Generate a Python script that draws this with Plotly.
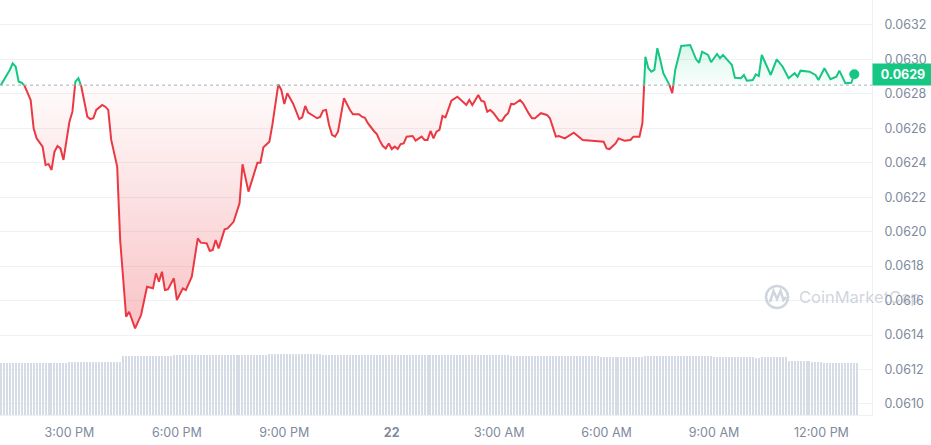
import plotly.graph_objects as go
from datetime import datetime, timedelta

# ---------------- data ----------------
START = datetime(2024, 6, 21, 13, 5)
BASE_PRICE = 0.06285  # opening price (dotted reference line)

MINUTES = [
    0, 10, 15, 20, 25, 30, 35, 40, 50, 55, 60, 70, 75, 80, 85, 90, 95, 100, 105, 115,
    120, 125, 130, 135, 145, 150, 155, 160, 170, 175, 180, 185, 195, 200, 210, 215, 225, 235, 245, 255,
    260, 265, 270, 275, 280, 290, 295, 305, 310, 320, 330, 335, 345, 350, 355, 360, 365, 375, 380, 390,
    400, 405, 415, 430, 435, 440, 450, 455, 465, 470, 475, 480, 490, 500, 505, 510, 515, 530, 535, 540,
    545, 550, 555, 560, 565, 575, 585, 590, 600, 605, 610, 615, 625, 630, 635, 640, 645, 650, 655, 660,
    665, 670, 675, 680, 690, 695, 705, 710, 715, 720, 725, 730, 735, 740, 745, 755, 765, 775, 780, 785,
    790, 800, 805, 810, 815, 820, 825, 835, 840, 845, 850, 855, 860, 870, 875, 885, 890, 895, 905, 915,
    920, 930, 935, 945, 955, 960, 975, 985, 995, 1000, 1010, 1015, 1020, 1030, 1035, 1045, 1055, 1060, 1070, 1075,
    1080, 1085, 1090, 1095, 1100, 1105, 1110, 1120, 1125, 1130, 1140, 1150, 1155, 1165, 1170, 1175, 1185, 1190, 1200, 1205,
    1210, 1220, 1225, 1230, 1240, 1245, 1250, 1260, 1265, 1270, 1275, 1285, 1290, 1300, 1310, 1320, 1330, 1335, 1340, 1355,
    1365, 1370, 1380, 1390, 1400, 1405, 1415, 1425, 1430,
]

PRICES = [
    0.062850, 0.062909, 0.062938, 0.062977, 0.062957, 0.062870, 0.062864, 0.062845, 0.062764, 0.062600,
    0.062541, 0.062493, 0.062387, 0.062392, 0.062358, 0.062464, 0.062497, 0.062483, 0.062416, 0.062638,
    0.062696, 0.062870, 0.062890, 0.062841, 0.062667, 0.062653, 0.062658, 0.062706, 0.062735, 0.062725,
    0.062706, 0.062532, 0.062377, 0.061951, 0.061506, 0.061535, 0.061439, 0.061516, 0.061680, 0.061671,
    0.061758, 0.061709, 0.061767, 0.061661, 0.061665, 0.061729, 0.061603, 0.061671, 0.061661, 0.061738,
    0.061961, 0.061936, 0.061932, 0.061889, 0.061893, 0.061951, 0.061903, 0.062013, 0.062019, 0.062057,
    0.062164, 0.062391, 0.062232, 0.062400, 0.062400, 0.062489, 0.062522, 0.062619, 0.062855, 0.062822,
    0.062741, 0.062803, 0.062741, 0.062653, 0.062663, 0.062729, 0.062691, 0.062658, 0.062665, 0.062702,
    0.062706, 0.062619, 0.062561, 0.062551, 0.062580, 0.062774, 0.062706, 0.062681, 0.062681, 0.062667,
    0.062661, 0.062629, 0.062584, 0.062566, 0.062528, 0.062497, 0.062483, 0.062512, 0.062479, 0.062493,
    0.062479, 0.062508, 0.062512, 0.062551, 0.062555, 0.062528, 0.062551, 0.062532, 0.062532, 0.062584,
    0.062541, 0.062580, 0.062590, 0.062671, 0.062663, 0.062760, 0.062783, 0.062754, 0.062735, 0.062764,
    0.062735, 0.062793, 0.062760, 0.062754, 0.062696, 0.062706, 0.062690, 0.062644, 0.062644, 0.062671,
    0.062687, 0.062741, 0.062739, 0.062764, 0.062745, 0.062683, 0.062658, 0.062658, 0.062687, 0.062677,
    0.062658, 0.062551, 0.062555, 0.062541, 0.062561, 0.062574, 0.062532, 0.062528, 0.062528, 0.062522,
    0.062522, 0.062483, 0.062479, 0.062512, 0.062541, 0.062528, 0.062532, 0.062551, 0.062551, 0.062629,
    0.063015, 0.062948, 0.062928, 0.062938, 0.063064, 0.062996, 0.062919, 0.062853, 0.062803, 0.062938,
    0.063077, 0.063083, 0.063083, 0.063000, 0.062980, 0.063044, 0.063025, 0.062983, 0.063031, 0.063006,
    0.063025, 0.062986, 0.062967, 0.062893, 0.062890, 0.062909, 0.062876, 0.062880, 0.062913, 0.062903,
    0.063025, 0.062948, 0.062909, 0.063000, 0.062957, 0.062890, 0.062919, 0.062899, 0.062934, 0.062928,
    0.062909, 0.062880, 0.062948, 0.062884, 0.062899, 0.062934, 0.062861, 0.062864, 0.062913,
]

# rolling volume (millions), one bar per 5 minutes, one row per hour
VOLUME = [
    63.0, 63.0, 63.0, 63.0, 63.0, 63.0, 63.0, 63.0, 63.0, 63.0, 63.0, 63.0,
    63.0, 63.0, 63.0, 63.0, 63.0, 63.0, 63.0, 63.0, 63.0, 63.0, 63.0, 64.2,
    64.2, 64.2, 64.2, 64.2, 64.2, 64.2, 64.2, 64.2, 64.2, 64.2, 64.2, 64.2,
    64.2, 64.2, 64.2, 64.2, 64.2, 71.1, 71.1, 71.1, 71.1, 71.1, 71.1, 71.1,
    71.1, 71.1, 71.1, 71.1, 71.1, 71.1, 71.1, 71.1, 71.1, 71.1, 72.3, 72.3,
    72.3, 72.3, 72.3, 72.3, 72.3, 72.3, 72.3, 72.3, 72.3, 72.3, 72.3, 72.3,
    72.3, 72.3, 72.3, 72.3, 72.3, 72.3, 72.3, 72.3, 72.3, 72.3, 72.3, 72.3,
    72.3, 72.3, 72.3, 72.3, 72.3, 72.3, 73.5, 73.5, 73.5, 73.5, 73.5, 73.5,
    73.5, 73.5, 73.5, 73.5, 73.5, 73.5, 73.5, 73.5, 73.5, 73.5, 73.5, 73.5,
    72.6, 72.6, 72.6, 72.6, 72.6, 72.6, 72.6, 72.6, 72.6, 72.6, 72.6, 72.6,
    72.4, 72.4, 72.4, 72.4, 72.4, 72.4, 72.4, 72.4, 72.4, 72.4, 72.4, 72.4,
    72.3, 72.3, 72.3, 72.3, 72.3, 72.3, 72.3, 72.3, 72.3, 72.3, 72.3, 72.3,
    72.2, 72.2, 72.2, 72.2, 72.2, 72.2, 72.2, 72.2, 72.2, 72.2, 72.2, 72.2,
    72.1, 72.1, 72.1, 72.1, 72.1, 72.1, 72.1, 72.1, 72.1, 72.1, 72.1, 72.1,
    72.0, 72.0, 72.0, 71.5, 71.5, 71.5, 71.5, 71.5, 71.5, 71.5, 71.5, 71.5,
    71.5, 71.5, 71.5, 71.5, 71.5, 71.5, 71.5, 71.5, 71.5, 71.5, 71.5, 71.5,
    71.4, 71.4, 71.4, 71.4, 71.4, 71.4, 71.4, 71.4, 71.4, 70.3, 70.3, 70.3,
    70.3, 70.3, 70.3, 70.3, 70.3, 70.3, 70.3, 70.3, 70.3, 70.3, 70.3, 70.3,
    71.5, 71.5, 71.5, 71.5, 71.5, 71.5, 71.5, 71.5, 71.5, 71.5, 71.5, 71.5,
    71.5, 71.5, 71.5, 71.5, 71.5, 71.5, 71.5, 71.5, 71.5, 71.5, 71.5, 70.3,
    70.3, 70.3, 70.3, 70.3, 70.3, 70.3, 70.3, 70.3, 70.3, 70.3, 70.3, 70.3,
    70.3, 69.0, 69.0, 69.9, 69.9, 69.9, 69.9, 69.9, 69.9, 69.9, 69.9, 69.9,
    65.1, 65.1, 65.1, 65.1, 65.1, 65.1, 65.1, 65.1, 63.5, 63.5, 63.5, 63.5,
    62.3, 62.3, 62.3, 62.3, 62.3, 62.3, 62.3, 62.3, 62.3, 62.3, 62.3, 62.3,
]

Y_TICKS = [0.0610, 0.0612, 0.0614, 0.0616, 0.0618, 0.0620, 0.0622,
           0.0624, 0.0626, 0.0628, 0.0630, 0.0632]
X_TICK_TIMES = ["2024-06-21 15:00", "2024-06-21 18:00", "2024-06-21 21:00",
                "2024-06-22 00:00", "2024-06-22 03:00", "2024-06-22 06:00",
                "2024-06-22 09:00", "2024-06-22 12:00"]
X_TICK_LABELS = ["3:00 PM", "6:00 PM", "9:00 PM", "<b>22</b>", "3:00 AM",
                 "6:00 AM", "9:00 AM", "12:00 PM"]
X_RANGE = ["2024-06-21 13:03:40", "2024-06-22 13:24:40"]
Y_RANGE = [0.060936, 0.063344]

RED = "#EA3943"
GREEN = "#16C784"
GRAY_TXT = "#808A9D"
FONT = "Inter, 'Noto Sans', sans-serif"

# ---------------- build series ----------------
times = [START + timedelta(minutes=m) for m in MINUTES]
vol_times = [START + timedelta(minutes=5 * i) for i in range(len(VOLUME))]

# split line at the opening price so it can be coloured above/below
seg_t, seg_p = [times[0]], [PRICES[0]]
for i in range(1, len(PRICES)):
    p0, p1 = PRICES[i - 1], PRICES[i]
    if (p0 - BASE_PRICE) * (p1 - BASE_PRICE) < 0:
        f = (BASE_PRICE - p0) / (p1 - p0)
        seg_t.append(times[i - 1] + (times[i] - times[i - 1]) * f)
        seg_p.append(BASE_PRICE)
    seg_t.append(times[i])
    seg_p.append(p1)

red_line = [p if p <= BASE_PRICE else None for p in seg_p]
green_line = [p if p >= BASE_PRICE else None for p in seg_p]
below = [min(p, BASE_PRICE) for p in seg_p]
above = [max(p, BASE_PRICE) for p in seg_p]
base = [BASE_PRICE] * len(seg_p)

fig = go.Figure()

# volume bars
fig.add_trace(go.Bar(
    x=vol_times, y=VOLUME, yaxis="y2", marker=dict(color="#D6DCE5", line=dict(width=0)),
    width=110000, hoverinfo="skip", showlegend=False))

# red area (below open)
fig.add_trace(go.Scatter(x=seg_t, y=base, mode="lines", line=dict(width=0),
                         hoverinfo="skip", showlegend=False))
fig.add_trace(go.Scatter(
    x=seg_t, y=below, mode="lines", line=dict(width=0), fill="tonexty",
    fillgradient=dict(type="vertical",
                      colorscale=[[0, "rgba(234,57,67,0.30)"], [1, "rgba(234,57,67,0.02)"]],
                      start=min(PRICES), stop=BASE_PRICE),
    hoverinfo="skip", showlegend=False))

# green area (above open)
fig.add_trace(go.Scatter(x=seg_t, y=base, mode="lines", line=dict(width=0),
                         hoverinfo="skip", showlegend=False))
fig.add_trace(go.Scatter(
    x=seg_t, y=above, mode="lines", line=dict(width=0), fill="tonexty",
    fillgradient=dict(type="vertical",
                      colorscale=[[0, "rgba(22,199,132,0.02)"], [1, "rgba(22,199,132,0.16)"]],
                      start=BASE_PRICE, stop=max(PRICES)),
    hoverinfo="skip", showlegend=False))

# lines
fig.add_trace(go.Scatter(x=seg_t, y=red_line, mode="lines", connectgaps=False,
                         line=dict(color=RED, width=2), showlegend=False))
fig.add_trace(go.Scatter(x=seg_t, y=green_line, mode="lines", connectgaps=False,
                         line=dict(color=GREEN, width=2), showlegend=False))

# last point
fig.add_trace(go.Scatter(x=[times[-1]], y=[PRICES[-1]], mode="markers",
                         marker=dict(color=GREEN, size=10), showlegend=False))

# dotted opening-price line
fig.add_shape(type="line", xref="paper", x0=0, x1=1, yref="y", y0=BASE_PRICE, y1=BASE_PRICE,
              line=dict(color="#A6AEBB", width=1, dash="dot"), layer="above")

# current price tag
fig.add_annotation(x=1, xref="paper", xanchor="left", y=PRICES[-1], yref="y",
                   text=f"<b>{PRICES[-1]:.4f}</b>", showarrow=False, bgcolor=GREEN,
                   font=dict(color="white", size=12.5, family=FONT),
                   width=56, height=17, borderpad=2, align="center")

# watermark
PW, PH = 872.0, 415.0


def px(xp, yp):
    return xp / PW, 1 - yp / PH


cx0, cy0 = px(766, 286)
cx1, cy1 = px(788, 308)
fig.add_shape(type="circle", xref="paper", yref="paper", x0=cx0, y0=cy1, x1=cx1, y1=cy0,
              line=dict(color="rgba(170,178,194,0.55)", width=2.5), layer="above")
pts = [(770, 302), (773.5, 291), (777, 299), (780.5, 291), (783.5, 300), (786, 297)]
path = "M " + " L ".join(f"{px(a, b)[0]:.5f},{px(a, b)[1]:.5f}" for a, b in pts)
fig.add_shape(type="path", xref="paper", yref="paper", path=path,
              line=dict(color="rgba(170,178,194,0.55)", width=2.5), layer="above")
fig.add_annotation(x=px(797, 0)[0], xref="paper", xanchor="left", y=px(0, 297)[1], yref="paper",
                   yanchor="middle", text="CoinMarketCap", showarrow=False,
                   font=dict(color="rgba(170,178,194,0.55)", size=16.5, family=FONT))

fig.update_layout(
    width=931, height=445,
    margin=dict(l=0, r=59, t=0, b=30),
    paper_bgcolor="white", plot_bgcolor="white",
    font=dict(family=FONT, color=GRAY_TXT),
    hovermode=False,
    xaxis=dict(type="date", range=X_RANGE, tickvals=X_TICK_TIMES, ticktext=X_TICK_LABELS,
               showgrid=False, zeroline=False, showline=True, linecolor="#EEF0F4", linewidth=1,
               ticks="", tickfont=dict(size=12.5, color=GRAY_TXT, family=FONT),
               ticklabelstandoff=6),
    yaxis=dict(side="right", range=Y_RANGE, tickvals=Y_TICKS, tickformat=".4f",
               showgrid=True, gridcolor="#EFF2F5", gridwidth=1, zeroline=False,
               showline=True, linecolor="#EEF0F4", linewidth=1, ticks="",
               tickfont=dict(size=12.5, color=GRAY_TXT, family=FONT), ticklabelstandoff=9),
    yaxis2=dict(overlaying="y", range=[0, 500], visible=False, showgrid=False),
    bargap=0,
)

fig.write_html(
    "out.html",
    config={"displayModeBar": False},
    post_script="document.body.style.margin='0';document.body.style.overflow='hidden';",
)
